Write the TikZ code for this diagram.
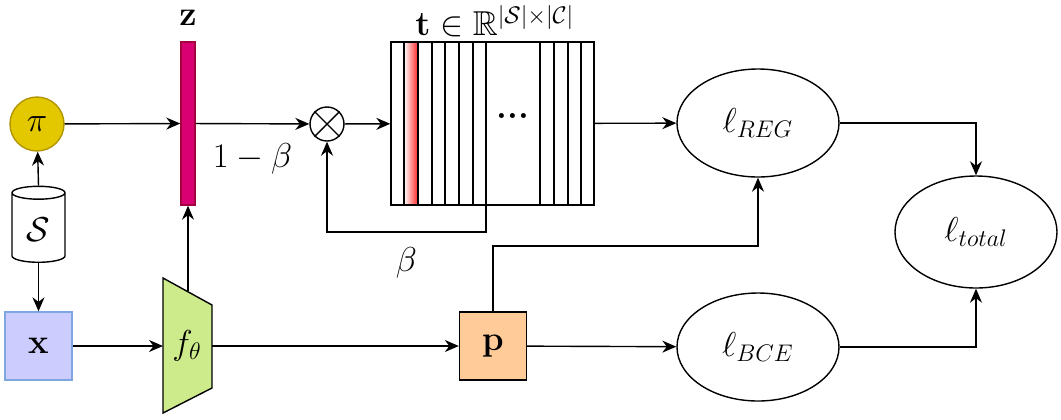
\documentclass[tikz,border=0pt]{standalone}
\usepackage{amsmath,amssymb}
\usetikzlibrary{shapes.geometric, arrows.meta, calc}
\definecolor{pifill}{HTML}{E3C800}
\definecolor{piline}{HTML}{B09500}
\definecolor{zfill}{HTML}{D80073}
\definecolor{zline}{HTML}{A50040}
\definecolor{xfill}{HTML}{CCCCFF}
\definecolor{xline}{HTML}{7EA6E0}
\definecolor{ffill}{HTML}{CDEB8B}
\definecolor{pfill}{HTML}{FFCC99}
\tikzset{
    myarrow/.style={-{Stealth[length=7pt,width=6pt]}, line width=0.7pt},
    plain/.style={line width=0.7pt},
    loss/.style={ellipse, draw, line width=0.7pt, minimum width=81pt, minimum height=54pt, font=\LARGE},
    sq/.style={rectangle, draw, line width=0.7pt, minimum width=33.5pt, minimum height=34pt, font=\LARGE},
    lbl/.style={font=\LARGE},
}
\begin{document}
\begin{tikzpicture}[x=0.5pt,y=-0.5pt]
\useasboundingbox (0,0) rectangle (1061,419);

% inputs
\node (pi) [circle, draw=piline, fill=pifill, line width=0.7pt, minimum size=27pt, inner sep=0pt, font=\LARGE] at (37,124) {$\pi$};
\node (S) [cylinder, shape border rotate=90, draw, line width=0.7pt, aspect=0.35, minimum height=38pt, minimum width=26.5pt, font=\LARGE] at (38.5,230) {$\mathcal{S}$};
\node (x) [sq, draw=xline, fill=xfill] at (38.5,346) {$\mathbf{x}$};

% encoder
\draw[plain, fill=ffill] (163,278) -- (212,305) -- (212,388) -- (163,413) -- cycle;
\node (f) [font=\LARGE, inner sep=0pt] at (187,346) {$f_\theta$};
\coordinate (fl) at (163,346);
\coordinate (fr) at (212,346);
\coordinate (ft) at (188,291);

% z vector
\node (z) [rectangle, draw=zline, fill=zfill, line width=0.7pt, minimum width=7pt, minimum height=81.5pt, inner sep=0pt] at (188,123.5) {};
\node (zl) [lbl] at (188,18) {$\mathbf{z}$};

% product
\node (m) [circle, draw, line width=0.7pt, minimum size=17pt, inner sep=0pt] at (327,124) {};
\draw[plain] (m.north west) -- (m.south east) (m.north east) -- (m.south west);

% t matrix
\node (t) [rectangle, draw, line width=0.7pt, minimum width=101.5pt, minimum height=81.5pt, inner sep=0pt] at (492.5,123.5) {};
\fill[left color=white, right color=red!85] (404,42) rectangle (418,205);
\foreach \c in {404,418,432,445,459,473,486,540,554,568,581}
  \draw[plain] (\c,42) -- (\c,205);
\draw[plain] (391,42) rectangle (594,205);
\node (dots) [font=\LARGE\bfseries] at (513,116) {...};
\node (tl) [lbl] at (495,21) {$\mathbf{t} \in \mathbb{R}^{|\mathcal{S}|\times|\mathcal{C}|}$};
\coordinate (tb) at (486,205);

% prediction
\node (p) [sq, fill=pfill] at (493,346) {$\mathbf{p}$};

% losses
\node (reg) [loss] at (758,123) {$\ell_{REG}$};
\node (bce) [loss] at (758,347) {$\ell_{BCE}$};
\node (tot) [loss, minimum height=56pt] at (976,232) {$\ell_{total}$};

% connections
\draw[myarrow] (S.north) -- (pi);
\draw[myarrow] (S.south) -- (x);
\draw[myarrow] (x) -- (fl);
\draw[myarrow] (ft) -- (z);
\draw[myarrow] (pi) -- (z);
\draw[myarrow] (z) -- (m) node[lbl, pos=0.5, below=6pt] {$1-\beta$};
\draw[myarrow] (m) -- (t);
\draw[myarrow] (tb) -- (486,232) -- node[lbl, below=4pt, pos=0.5] {$\beta$} (327,232) -- (m);
\draw[myarrow] (t) -- (reg);
\draw[myarrow] (fr) -- (p);
\draw[myarrow] (p) -- (bce);
\draw[myarrow] (p.north) |- (758,246) -- (reg.south);
\draw[myarrow] (reg.east) -| (tot.north);
\draw[myarrow] (bce.east) -| (tot.south);
\end{tikzpicture}
\end{document}
